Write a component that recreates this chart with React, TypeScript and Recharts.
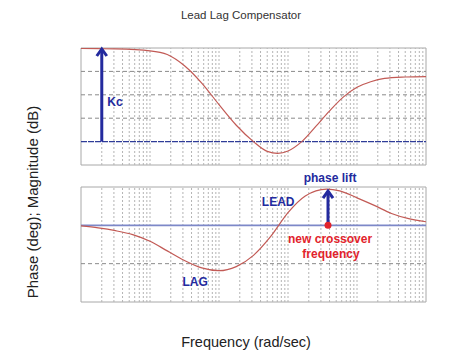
import React from 'react';
import { LineChart, Line, XAxis, YAxis, ReferenceLine, ReferenceDot, ReferenceArea } from 'recharts';

// Magnitude (dB) curve
const magFreq = [0.01, 0.0316, 0.1, 0.178, 0.316, 0.562, 1, 1.78, 3.16, 5.01, 7.08, 10, 15.8, 25.1, 39.8, 63.1, 100, 158, 251, 501, 1000];
const magDb = [19.9, 19.8, 19.4, 18.6, 16.2, 12.5, 7.9, 3.5, 0.0, -2.1, -2.5, -2.0, 0.0, 3.2, 6.5, 9.5, 11.6, 12.8, 13.5, 13.8, 13.9];

// Phase (deg) curve
const phaseFreq = [0.01, 0.0178, 0.0316, 0.0562, 0.1, 0.178, 0.316, 0.562, 1, 1.78, 3.16, 5.62, 10, 17.8, 36.3, 56.2, 100, 178, 316, 562, 1000];
const phaseDeg = [-0.5, -2.0, -4.2, -7.3, -12.5, -20.0, -27.5, -33.3, -35.5, -32.3, -23.5, -8.7, 10.0, 23.0, 28.4, 27.0, 21.5, 15.6, 9.3, 5.2, 2.8];

// Axes / grid
const freqDomain = [0.01, 1000];
const decades = [0.01, 0.1, 1, 10, 100];
const minorMult = [1, 2, 3, 4, 5, 6, 7, 8, 9];
const magTicks = [-5, 0, 5, 10, 15, 20];
const phaseTicks = [-60, -30, 0, 30];

// Annotations
const kcFreq = 0.02;
const crossoverFreq = 38;

const magData = magFreq.map((f, i) => ({ f, v: magDb[i] }));
const phaseData = phaseFreq.map((f, i) => ({ f, v: phaseDeg[i] }));
const gridX = decades.flatMap((d) => minorMult.map((m) => +(d * m).toPrecision(6))).filter((f) => f > freqDomain[0]);

const FONT = '"Liberation Sans", Arial, Helvetica, sans-serif';
const BLUE = '#232a9e';
const RED = '#e2232c';
const CURVE = '#c25a55';

const ArrowShape = (props: any) => {
  const { x1, y1, x2, y2 } = props;
  const dir = y2 < y1 ? 1 : -1;
  return (
    <g>
      <line x1={x1} y1={y1} x2={x2} y2={y2 + dir * 1} stroke={BLUE} strokeWidth={3} />
      <polyline
        points={`${x2 - 5},${y2 + 8 * dir} ${x2},${y2 + 1 * dir} ${x2 + 5},${y2 + 8 * dir}`}
        fill="none"
        stroke={BLUE}
        strokeWidth={3}
      />
    </g>
  );
};

const textLabel = (value: string, fill: string) => ({
  value,
  position: 'center' as const,
  fill,
  fontSize: 12,
  fontWeight: 'bold' as const,
  fontFamily: FONT,
});

const gridLines = (yDomain: number[], ticks: number[]) => [
  ...gridX.map((f) => (
    <ReferenceLine key={'gx' + f} x={f} stroke="#b4b4b4" strokeDasharray="2 2" strokeWidth={1} />
  )),
  ...ticks
    .filter((t) => t !== yDomain[0] && t !== yDomain[1] && t !== 0)
    .map((t) => <ReferenceLine key={'gy' + t} y={t} stroke="#8a8a8a" strokeDasharray="4 3" strokeWidth={1} />),
  <ReferenceArea
    key="border"
    x1={freqDomain[0]}
    x2={freqDomain[1]}
    y1={yDomain[0]}
    y2={yDomain[1]}
    fill="none"
    stroke="#a8a8a8"
    strokeWidth={1}
  />,
];

export default function App() {
  const magDomain = [-5, 20];
  const phaseDomain = [-60, 30];
  return (
    <div
      style={{
        position: 'absolute',
        left: 0,
        top: 0,
        width: 474,
        height: 355,
        background: '#ffffff',
        fontFamily: FONT,
        overflow: 'hidden',
      }}
    >
      <div
        style={{
          position: 'absolute',
          left: 4,
          top: 9,
          width: 474,
          textAlign: 'center',
          fontSize: 11.5,
          lineHeight: '12px',
          color: '#333333',
        }}
      >
        Lead Lag Compensator
      </div>

      <div style={{ position: 'absolute', left: 0, top: 0 }}>
        <LineChart width={474} height={180} data={magData} margin={{ top: 48, right: 48, bottom: 15, left: 81 }}>
          <XAxis dataKey="f" type="number" scale="log" domain={freqDomain} hide allowDataOverflow />
          <YAxis type="number" domain={magDomain} ticks={magTicks} hide allowDataOverflow />
          {gridLines(magDomain, magTicks)}
          <ReferenceLine y={0} stroke="#2f3c98" strokeWidth={1.2} strokeDasharray="6 1" />
          <Line type="monotone" dataKey="v" stroke={CURVE} strokeWidth={1.2} dot={false} isAnimationActive={false} />
          <ReferenceLine
            segment={[
              { x: kcFreq, y: 0 },
              { x: kcFreq, y: 20 },
            ]}
            shape={ArrowShape}
            ifOverflow="visible"
          />
          <ReferenceDot x={0.031} y={8.5} r={0} fill="none" stroke="none" label={textLabel('Kc', BLUE)} ifOverflow="visible" />
        </LineChart>
      </div>

      <div style={{ position: 'absolute', left: 0, top: 160 }}>
        <LineChart width={474} height={160} data={phaseData} margin={{ top: 27, right: 48, bottom: 18, left: 81 }}>
          <XAxis dataKey="f" type="number" scale="log" domain={freqDomain} hide allowDataOverflow />
          <YAxis type="number" domain={phaseDomain} ticks={phaseTicks} hide allowDataOverflow />
          {gridLines(phaseDomain, phaseTicks)}
          <ReferenceLine y={0} stroke="#7d88c8" strokeWidth={1.6} />
          <Line type="monotone" dataKey="v" stroke={CURVE} strokeWidth={1.2} dot={false} isAnimationActive={false} />
          <ReferenceLine
            segment={[
              { x: crossoverFreq, y: 0 },
              { x: crossoverFreq, y: 27.5 },
            ]}
            shape={ArrowShape}
            ifOverflow="visible"
          />
          <ReferenceDot x={crossoverFreq} y={0} r={3.5} fill={RED} stroke="none" ifOverflow="visible" />
          <ReferenceDot x={40.7} y={37.3} r={0} fill="none" stroke="none" label={textLabel('phase lift', BLUE)} ifOverflow="visible" />
          <ReferenceDot x={7.2} y={18.2} r={0} fill="none" stroke="none" label={textLabel('LEAD', BLUE)} ifOverflow="visible" />
          <ReferenceDot x={0.45} y={-44.4} r={0} fill="none" stroke="none" label={textLabel('LAG', BLUE)} ifOverflow="visible" />
          <ReferenceDot x={40.7} y={-10.7} r={0} fill="none" stroke="none" label={textLabel('new crossover', RED)} ifOverflow="visible" />
          <ReferenceDot x={42} y={-22.5} r={0} fill="none" stroke="none" label={textLabel('frequency', RED)} ifOverflow="visible" />
        </LineChart>
      </div>

      <div
        style={{
          position: 'absolute',
          left: 33 - 130,
          top: 202 - 9,
          width: 260,
          height: 18,
          lineHeight: '18px',
          textAlign: 'center',
          fontSize: 15,
          color: '#222222',
          transform: 'rotate(-90deg)',
          whiteSpace: 'nowrap',
        }}
      >
        Phase (deg); Magnitude (dB)
      </div>

      <div
        style={{
          position: 'absolute',
          left: 246 - 150,
          top: 342 - 9,
          width: 300,
          height: 18,
          lineHeight: '18px',
          textAlign: 'center',
          fontSize: 14.5,
          color: '#222222',
          whiteSpace: 'nowrap',
        }}
      >
        Frequency (rad/sec)
      </div>
    </div>
  );
}
